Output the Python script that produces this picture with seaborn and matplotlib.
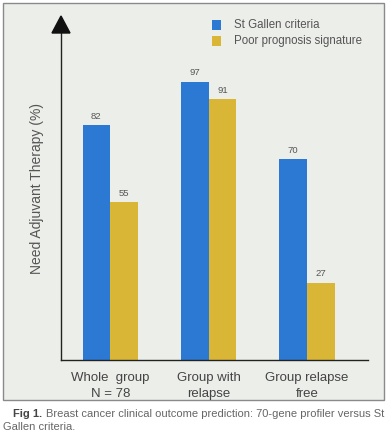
import numpy as np
import pandas as pd
import matplotlib
matplotlib.use("Agg")
import matplotlib.pyplot as plt
import seaborn as sns
from matplotlib.patches import Rectangle, Polygon

# data
groups = ['Whole  group\nN = 78', 'Group with\nrelapse', 'Group relapse\nfree']
st_gallen = [82, 97, 70]
poor_prognosis = [55, 91, 27]
series_names = ['St Gallen criteria', 'Poor prognosis signature']

df = pd.DataFrame({
    'group': groups * 2,
    'value': st_gallen + poor_prognosis,
    'series': [series_names[0]] * 3 + [series_names[1]] * 3,
})

sns.set_style('white')
plt.rcParams['font.family'] = ['Liberation Sans', 'DejaVu Sans']

W, H = 387, 443
fig = plt.figure(figsize=(W / 100, H / 100), dpi=100, facecolor='white')

# panel box behind the chart
fig.patches.append(Rectangle((3 / W, 1 - 400 / H), 381 / W, 397 / H,
                             transform=fig.transFigure, facecolor='#eceeea',
                             edgecolor='#8a8a8a', linewidth=1.0, zorder=-10))

ax = fig.add_axes([61 / W, 1 - 360 / H, 307 / W, 330 / H])
ax.set_facecolor('none')
ax.set_zorder(1)
palette = {series_names[0]: '#2b79d3', series_names[1]: '#d9b636'}
sns.barplot(data=df, x='group', y='value', hue='series', palette=palette,
            width=0.56, saturation=1, linewidth=0, ax=ax, legend=False)

ax.set_xlim(-0.5, 2.62)
ax.set_ylim(0, 115)
for s in ['top', 'right']:
    ax.spines[s].set_visible(False)
ax.spines['left'].set_color('#222222')
ax.spines['bottom'].set_color('#222222')
ax.spines['left'].set_linewidth(1.0)
ax.spines['bottom'].set_linewidth(1.0)
ax.set_yticks([])
ax.tick_params(axis='x', length=0, pad=9, labelsize=9.5, colors='#444444')
for lab in ax.get_xticklabels():
    lab.set_linespacing(1.35)
ax.set_xlabel('')
ax.set_ylabel('Need Adjuvant Therapy (%)', fontsize=10, color='#555555')
ax.yaxis.set_label_coords(-0.055, 0.52)

# value labels
for cont in ax.containers:
    ax.bar_label(cont, fmt='%d', padding=3, fontsize=6.8, color='#555555')

# arrow head on y axis
fig.patches.append(Polygon([(52 / W, 1 - 33 / H), (70 / W, 1 - 33 / H), (61 / W, 1 - 16 / H)],
                           closed=True, transform=fig.transFigure,
                           facecolor='#111111', edgecolor='#111111', zorder=5))

# legend
for i, name in enumerate(series_names):
    yc = 25 + i * 16
    fig.patches.append(Rectangle((212 / W, 1 - (yc + 4.5) / H), 9 / W, 9 / H,
                                 transform=fig.transFigure,
                                 facecolor=palette[name], edgecolor='none', zorder=5))
    fig.text(234 / W, 1 - yc / H, name, fontsize=8.3, color='#555555', va='center')

# caption
r = fig.canvas.get_renderer()
t = fig.text(13 / W, 1 - 414 / H, 'Fig 1.', fontsize=8, fontweight='bold',
             color='#444444', va='center')
bb = t.get_window_extent(renderer=r)
fig.text((bb.x1 + 4) / W, 1 - 414 / H,
         'Breast cancer clinical outcome prediction: 70-gene profiler versus St',
         fontsize=8, color='#666666', va='center')
fig.text(3 / W, 1 - 427 / H, 'Gallen criteria.', fontsize=8, color='#666666', va='center')

fig.savefig('out.png', dpi=100, facecolor='white')
